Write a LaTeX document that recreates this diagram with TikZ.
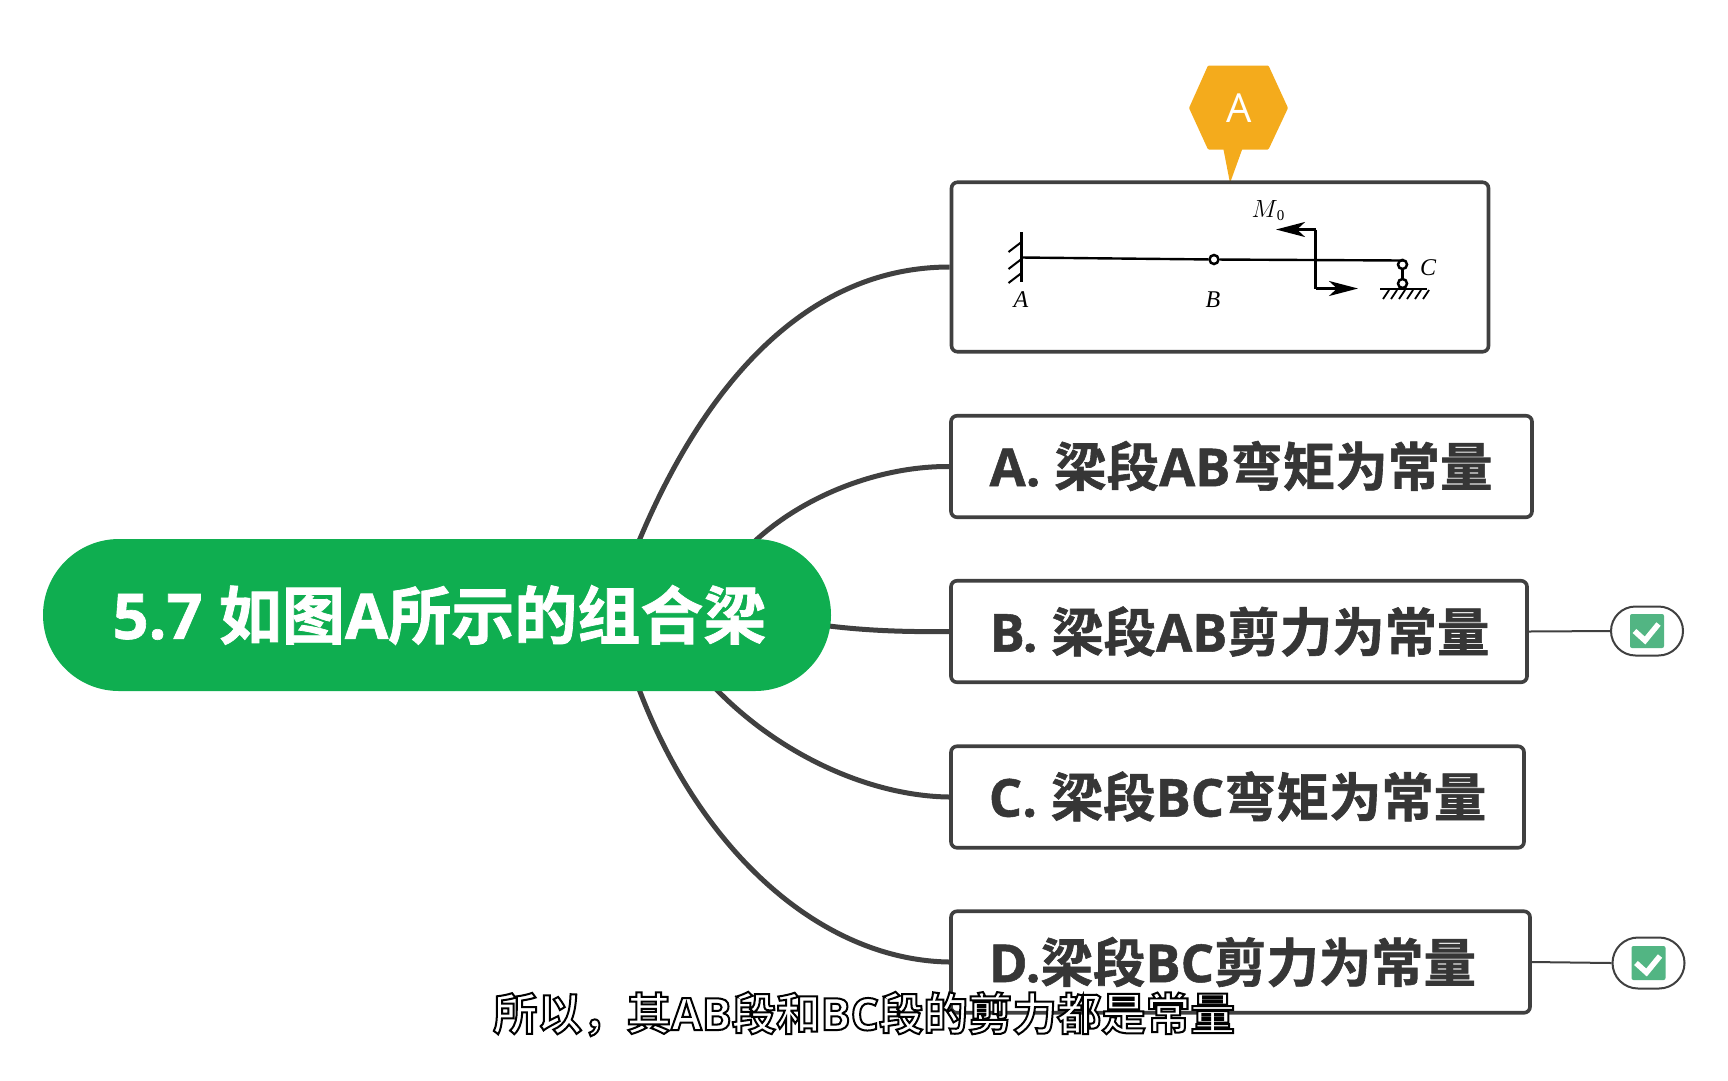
\documentclass[tikz,border=0pt]{standalone}
\usepackage{fontspec}
\setmainfont{Open Sans}[BoldFeatures={FakeBold=1}]
\newfontfamily\cjk{Noto Sans CJK SC}[BoldFont={Noto Sans CJK SC Bold},BoldFeatures={FakeBold=1.2}]
\newfontfamily\subcjk{Noto Sans CJK SC Bold}
\newfontfamily\sublat{Open Sans}[UprightFont={* Bold}]
\newfontfamily\beamfont{Liberation Serif}
\usetikzlibrary{arrows.meta,shapes.misc}
\definecolor{rootgreen}{HTML}{0FAE50}
\definecolor{linegrey}{HTML}{404040}
\definecolor{optgrey}{HTML}{363636}
\definecolor{markeryellow}{HTML}{F4AB1C}
\definecolor{tickgreen}{HTML}{52B583}
\tikzset{
  optbox/.style={draw=linegrey,line width=3.6pt,rounded corners=6pt,fill=white,inner sep=0pt,text=optgrey,
    font=\fontsize{52.4}{60}\selectfont\bfseries},
  branch/.style={draw=linegrey,line width=5pt},
  tag/.style={draw=linegrey,line width=2pt,rounded rectangle,fill=white,minimum width=72pt,minimum height=49pt,inner sep=0pt},
  tick/.style={fill=tickgreen,rounded corners=2pt,minimum size=34pt,inner sep=0pt},
  beam/.style={line width=2.4pt,black},
  hinge/.style={draw=black,line width=2.5pt,circle,fill=white,minimum size=9pt,inner sep=0pt},
  beamlabel/.style={font=\fontsize{24}{26}\selectfont\beamfont\itshape,inner sep=0pt},
}
\begin{document}
\begin{tikzpicture}[x=1pt,y=-1pt,>={Stealth[length=29pt,width=15pt,inset=8pt]}]
\useasboundingbox (0,0) rectangle (1728,1080);

% marker
\fill[markeryellow] (1223,147) -- (1243,147) -- (1230,183) -- cycle;
\fill[markeryellow,rounded corners=1pt] (1208,65.5) -- (1268.5,65.5) -- (1288,108) -- (1268.5,149.5) -- (1208,149.5) -- (1189,108) -- cycle;
\node[text=white,font=\fontsize{40}{44}\selectfont] (marker) at (1239,108) {A};

% root and answers
\coordinate (rootimg) at (639,541);
\coordinate (roota) at (755,541);
\coordinate (rootb) at (829,626);
\coordinate (rootc) at (716,689);
\coordinate (rootd) at (639,689);
\node[optbox,minimum width=537pt,minimum height=169.5pt] (imgbox) at (1220,267) {};
\node[optbox,minimum width=581pt,minimum height=101.5pt] (opta) at (1241.5,466.5) {};
\node[optbox,minimum width=576pt,minimum height=101.5pt] (optb) at (1239,631.5) {};
\node[optbox,minimum width=573pt,minimum height=101.5pt] (optc) at (1237.5,797) {};
\node[optbox,minimum width=579pt,minimum height=101.5pt] (optd) at (1240.5,962) {};

\path[branch] (rootimg) .. controls (700,395) and (800,267) .. (imgbox.west);
\path[branch] (roota) .. controls (805,495) and (880,466) .. (opta.west);
\path[branch] (rootb) .. controls (870,631) and (910,632) .. (optb.west);
\path[branch] (rootc) .. controls (780,755) and (870,796) .. (optc.west);
\path[branch] (rootd) .. controls (700,850) and (820,960) .. (optd.west);

\node[fill=rootgreen,rounded rectangle,minimum width=788pt,minimum height=152pt,inner sep=0pt,text=white,
  font=\fontsize{63}{70}\selectfont\bfseries] (root) at (437,615) {\kern5pt 5.7 {\cjk 如图}A{\cjk 所示的组合梁}};

% answer texts
\node[optbox,draw=none,fill=none] (texta) at (1241,466) {A. {\cjk 梁段}AB{\cjk 弯矩为常量}};
\node[optbox,draw=none,fill=none] (textb) at (1239.5,631.5) {B. {\cjk 梁段}AB{\cjk 剪力为常量}};
\node[optbox,draw=none,fill=none] (textc) at (1237.5,796.5) {C. {\cjk 梁段}BC{\cjk 弯矩为常量}};
\node[optbox,draw=none,fill=none] (textd) at (1232.5,962) {D.{\cjk 梁段}BC{\cjk 剪力为常量}};

% ticks
\node[tag] (tagb) at (1647,631) {};
\node[tag,minimum height=51pt] (tagd) at (1648.5,963) {};
\draw[linegrey,line width=2pt] (optb.east) -- (tagb.west);
\draw[linegrey,line width=2pt] (optd.east) -- (tagd.west);
\foreach \n in {b,d}{
  \node[tick] (tick\n) at (tag\n) {};
  \draw[white,line width=5.5pt] ([shift={(-12.5,0)}]tick\n.center) -- ([shift={(-2,9.5)}]tick\n.center) -- ([shift={(11.5,-7)}]tick\n.center);
}

% beam
\coordinate (wallt) at (1021.5,232);
\coordinate (wallb) at (1021.5,282);
\coordinate (fixa) at (1021.5,257.5);
\node[hinge] (hingeb) at (1214,259.5) {};
\node[hinge] (hingec) at (1402.5,264.5) {};
\node[hinge] (pinc) at (1402.5,283.5) {};
\coordinate (beamc) at (1402.5,260.5);
\coordinate (gl) at (1380,289);
\coordinate (gr) at (1427,289);
\coordinate (mtop) at (1315.5,229.5);
\coordinate (mbot) at (1315.5,288.5);
\coordinate (mleft) at (1276,229.5);
\coordinate (mright) at (1358,288.5);
\draw[beam] (wallt) -- (wallb);
\draw[beam] (fixa) -- (hingeb);
\draw[beam] (hingeb) -- (beamc) -- (hingec);
\draw[beam] (hingec) -- (pinc);
\draw[beam] (gl) -- (gr);
\draw[beam,->] (mtop) -- (mleft);
\draw[beam,->] (mbot) -- (mright);
\draw[beam] (mtop) -- (mbot);
\foreach \y in {242,259,273}
  \draw[black,line width=2pt] (1021.5,\y) -- +(-13,10);
\foreach \x in {1389,1397,1405,1413,1421,1429}
  \draw[black,line width=1.8pt] (\x,290) -- +(-6,9);
\node[beamlabel] (laba) at (1021,300) {A};
\node[beamlabel] (labb) at (1213,300) {B};
\node[beamlabel] (labc) at (1428,268) {C};
\node[beamlabel] (labm) at (1268,210.5) {$M$\kern-1pt\raisebox{-3pt}{\fontsize{15}{16}\selectfont\upshape 0}};

% subtitle
\node[inner sep=0pt,font=\fontsize{44.5}{50}\selectfont] (subtitle) at (864,1014) {\special{pdf:code q 2 Tr 2 w 0 0 0 RG 1 1 1 rg}{\subcjk 所以，其}{\sublat AB}{\subcjk 段和}{\sublat BC}{\subcjk 段的剪力都是常量}\special{pdf:code Q}};
\end{tikzpicture}
\end{document}
